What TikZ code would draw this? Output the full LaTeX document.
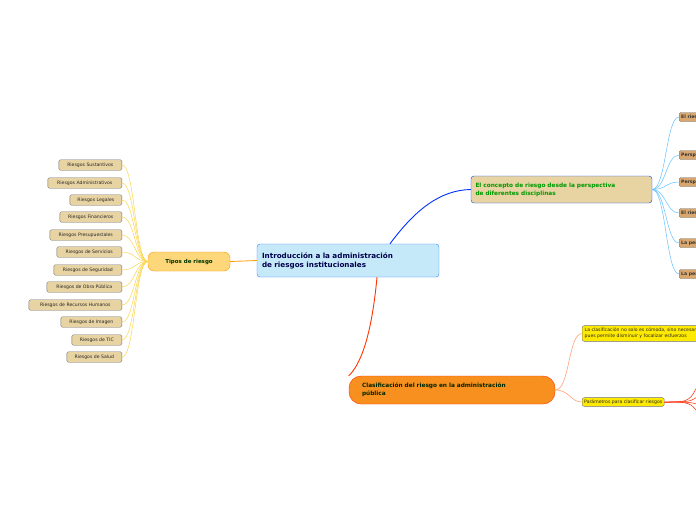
\documentclass[tikz,border=0pt]{standalone}
\usepackage{fontspec}
\setmainfont{DejaVu Sans}
\definecolor{tan}{HTML}{E8D3A2}
\definecolor{rtan}{HTML}{D9A66E}
\definecolor{cblue}{HTML}{C6E9FA}
\definecolor{tip}{HTML}{FDD77A}
\definecolor{ora}{HTML}{F7901E}
\begin{document}
\begin{tikzpicture}[x=1pt,y=-1pt,
 leaf/.style={draw=black!55,fill=tan,rounded corners=1.5pt,font=\fontsize{4.6}{5}\selectfont,inner sep=0pt,minimum height=10.5pt,text=black!85},
 rleaf/.style={draw=black!55,fill=rtan,rounded corners=1.5pt,font=\fontsize{4.6}{5}\selectfont\bfseries,inner sep=2pt,minimum height=9pt,anchor=west,text=black!80},
 yleaf/.style={draw=black!55,fill=yellow!92!orange,rounded corners=2pt,font=\fontsize{4.6}{6}\selectfont,inner sep=2.5pt,anchor=west,align=left,text=black!85},
 tl/.style={draw=yellow!60!orange!70,line width=0.5pt},
 bl/.style={draw=blue!40!cyan!60,line width=0.5pt},
 ol/.style={draw=red!40!orange!60,line width=0.5pt}]
\useasboundingbox (0,0) rectangle (696,520);
\fill[white] (0,0) rectangle (696,520);
\clip (0,0) rectangle (696,520);
\node[draw=blue!60!cyan!80,fill=cblue,rounded corners=3pt,minimum width=182pt,minimum height=33pt,align=left,font=\fontsize{7.2}{9}\selectfont\bfseries,text=blue!30!black,text width=172pt] (c) at (348,260.5) {Introducción a la administración\\de riesgos institucionales};
\node[draw=orange!80!yellow,fill=tip,rounded corners=6pt,minimum width=82pt,minimum height=19pt,font=\fontsize{5.5}{6}\selectfont\bfseries,text=green!20!black] (t) at (189,261.5) {Tipos de riesgo};
\node[draw=blue!70!cyan,fill=tan,rounded corners=3pt,minimum width=181pt,minimum height=27pt,align=left,font=\fontsize{5.8}{8}\selectfont\bfseries,text=green!60!black,text width=172pt] (k) at (561.5,189.5) {El concepto de riesgo desde la perspectiva\\de diferentes disciplinas};
\node[draw=red!60!orange,fill=ora,rounded corners=12pt,minimum width=206pt,minimum height=28pt,align=left,font=\fontsize{5.8}{7.5}\selectfont\bfseries,text=green!15!black,text width=180pt] (o) at (452,390) {Clasificación del riesgo en la administración\\pública};
\draw[draw=orange!80!yellow,line width=0.8pt] (t.east) -- (c.west);
\draw[draw=blue!80!cyan,line width=0.9pt] (c.north)+(42,0) coordinate (c1) (c1) .. controls (415,210) and (440,190) .. (k.west);
\draw[draw=red!60!orange,line width=0.9pt] (c.south)+(29,0) coordinate (c2) (c2) .. controls (373,320) and (365,360) .. (o.north west);
\foreach \n/\y/\w/\txt in {a/165/63/Riesgos Sustantivos,b/183/74/Riesgos Administrativos,d/200/52/Riesgos Legales,e/217/62/Riesgos Financieros,f/235/72/Riesgos Presupuestales,g/252/65/Riesgos de Servicios,h/270/68/Riesgos de Seguridad,i/287/75/Riesgos de Obra Pública,j/305/93/Riesgos de Recursos Humanos,l/322/61/Riesgos de Imagen,m/340/50/Riesgos de TIC,n/357/55/Riesgos de Salud}{
 \node[leaf,minimum width=\w pt,anchor=east] (L\n) at (122,\y) {\txt};
 \draw[tl] (t.west) .. controls (135,261.5) and (135,\y) .. (L\n.east);
}
\foreach \n/\y/\txt in {1/117/El riesgo como concepto general,2/155/Perspectiva económica del riesgo,3/182/Perspectiva social del riesgo,4/213/El riesgo en la administración,5/243/La percepción del riesgo,6/274/La perspectiva institucional}{
 \node[rleaf] (R\n) at (679,\y) {\txt};
 \draw[bl] (k.east) .. controls (666,189.5) and (666,\y) .. (R\n.west);
}
\node[yleaf] (y1) at (582,333.5) {La clasificación no solo es cómoda, sino necesaria\\pues permite disminuir y focalizar esfuerzos};
\node[yleaf,inner sep=2pt] (y2) at (582,402) {Parámetros para clasificar riesgos};
\draw[ol] (o.east) .. controls (570,390) and (568,333.5) .. (y1.west);
\draw[ol] (o.east) .. controls (570,390) and (570,402) .. (y2.west);
\foreach \yy in {380,395,405,415}{\draw[draw=red!70!orange,line width=0.5pt] (y2.east) .. controls (690,402) .. (700,\yy);}
\end{tikzpicture}
\end{document}
